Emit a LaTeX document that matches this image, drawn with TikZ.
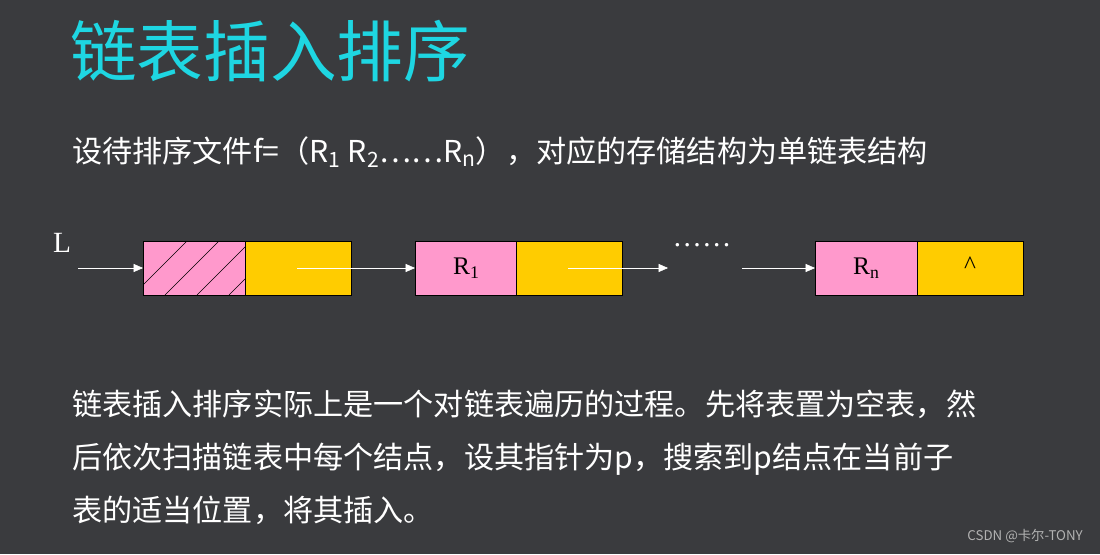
\documentclass[tikz,border=0pt]{standalone}
\usepackage{fontspec}
\setmainfont{Noto Sans CJK SC}
\newfontfamily\cjk{Noto Sans CJK SC}
\newfontfamily\tms{Liberation Serif}
\usetikzlibrary{arrows.meta,positioning}
\definecolor{bg}{HTML}{3A3B3E}
\definecolor{titlecyan}{HTML}{1ED6E2}
\definecolor{pinkcell}{HTML}{FF99CC}
\definecolor{goldcell}{HTML}{FFCC00}
\tikzset{
    cell/.style={
	draw=black,
	minimum width=77pt,
	minimum height=40.5pt,
	inner sep=0pt,
	outer sep=0pt,
	anchor=north west,
	font=\tms\fontsize{19}{19}\selectfont
    },
    datacell/.style={cell, fill=pinkcell},
    linkcell/.style={cell, fill=goldcell, minimum width=79.5pt},
    link/.style={white, -{Triangle[length=7pt,width=6pt]}},
    bodytext/.style={white, anchor=base west, inner sep=0pt,
	font=\cjk\fontsize{22.6}{22.6}\selectfont},
}
\begin{document}
\begin{tikzpicture}[x=0.75pt,y=-0.75pt]
    \fill[bg] (0,0) rectangle (1100,554);
    \useasboundingbox (0,0) rectangle (1100,554);

    \node[titlecyan, anchor=base west, inner sep=0pt,
	font=\cjk\fontsize{50}{50}\selectfont] (title) at (70,76) {链表插入排序};

    \node[bodytext] (intro) at (72,162)
	{设待排序文件f=（R\textsubscript{1} R\textsubscript{2}……R\textsubscript{n}），对应的存储结构为单链表结构};

    % linked list
    \node[datacell] (H) at (143,241) {};
    \node[linkcell] (HL) at (245,241) {};
    \node[datacell] (A) at (415,241) {R\textsubscript{1}};
    \node[linkcell] (AL) at (516,241) {};
    \node[datacell] (N) at (815,241) {R\textsubscript{n}};
    \node[linkcell] (NL) at (917,241) {\raisebox{4pt}{\^{}}};

    \begin{scope}
	\clip (H.north west) rectangle (H.south east);
	\foreach \s in {0,32,64,96,128}
	    \draw[black, thin] (143+\s-10,295) -- (143+\s+54-10,241);
    \end{scope}
    \draw (H.north west) rectangle (H.south east);

    \node[white, font=\tms\fontsize{22}{22}\selectfont, inner sep=0pt]
	(L) at (62,243) {L};
    \node[white, font=\tms\fontsize{22}{22}\selectfont, inner sep=0pt]
	(dots) at (702,245) {……};

    \coordinate (Lstart) at (78,268);
    \coordinate (dotend) at (668,268);
    \coordinate (dotstart) at (742,268);
    \draw[link] (Lstart) -- (H.west);
    \draw[link] ([xshift=39pt]HL.west) -- (A.west);
    \draw[link] ([xshift=39pt]AL.west) -- (dotend);
    \draw[link] (dotstart) -- (N.west);

    \node[bodytext] (p1) at (72,415) {链表插入排序实际上是一个对链表遍历的过程。先将表置为空表，然};
    \node[bodytext] (p2) at (72,468) {后依次扫描链表中每个结点，设其指针为p，搜索到p结点在当前子};
    \node[bodytext] (p3) at (72,521) {表的适当位置，将其插入。};

    \node[gray!60, anchor=base east, inner sep=0pt,
	font=\cjk\fontsize{10}{10}\selectfont] (mark) at (1083,540) {CSDN @卡尔-TONY};
\end{tikzpicture}
\end{document}
